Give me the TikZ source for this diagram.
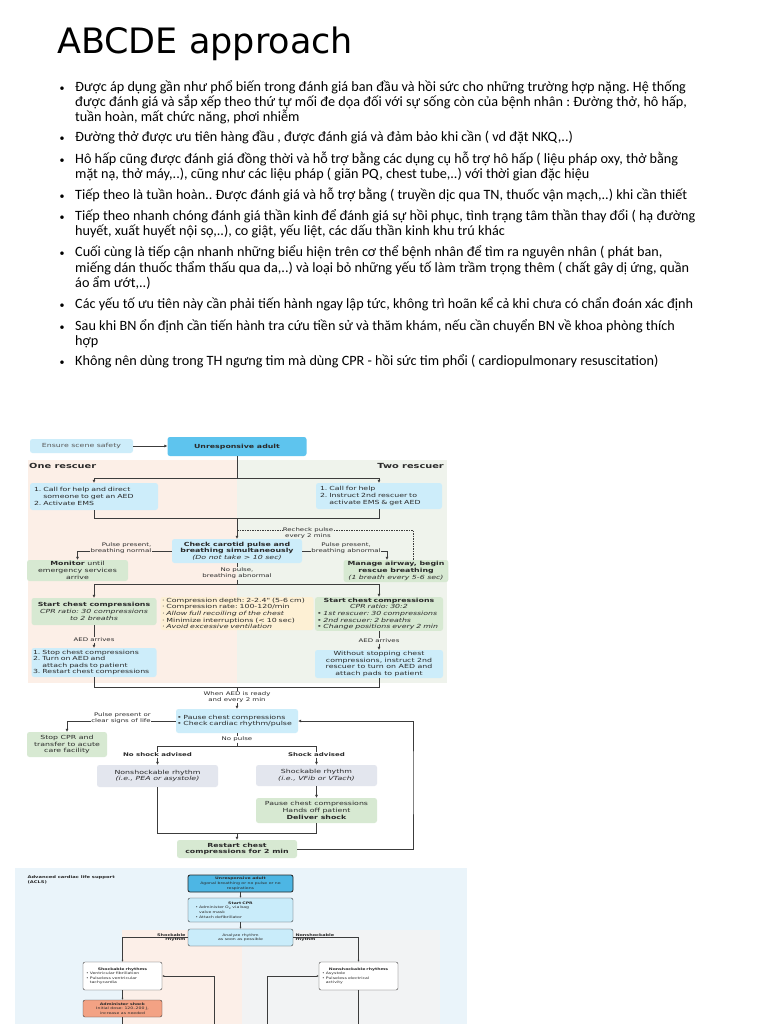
\documentclass[tikz,border=0pt]{standalone}
\usepackage{fontspec}
\setmainfont{Carlito}
\newfontfamily\titlefont{DejaVu Sans}
\newfontfamily\chartfont[FakeStretch=1.4]{DejaVu Sans}
\usetikzlibrary{arrows.meta}
\frenchspacing

\definecolor{linegray}{HTML}{3C3C3C}
\definecolor{textgray}{HTML}{2A2A2A}
\definecolor{aedblue}{HTML}{CDEDFA}
\definecolor{topblue}{HTML}{5EC4EE}
\definecolor{stepgreen}{HTML}{D7E9D2}
\definecolor{noteyellow}{HTML}{FDF0D4}
\definecolor{rhythmgray}{HTML}{E3E6EE}
\definecolor{onebg}{HTML}{FCEFE7}
\definecolor{twobg}{HTML}{EFF3EC}
\definecolor{aclsbg}{HTML}{EAF4FA}
\definecolor{aclsblue}{HTML}{4DB6E4}
\definecolor{aclslight}{HTML}{C9ECFA}
\definecolor{shockred}{HTML}{F3A284}
\definecolor{shockbg}{HTML}{FCEFE8}
\definecolor{aclsgray}{HTML}{F2F3F4}

\tikzset{
  bulletline/.style={anchor=base west, inner sep=0pt, font=\fontsize{14.2}{15.3}\selectfont},
  bulletdot/.style={anchor=base west, inner sep=0pt, font=\fontsize{10}{12}\selectfont},
  chart/.style={font=\chartfont\fontsize{5.6}{6.6}\selectfont, text=textgray},
  cprbox/.style={chart, rounded corners=2.5pt, inner sep=1pt, inner xsep=4pt, align=center},
  bluebox/.style={cprbox, fill=aedblue},
  greenbox/.style={cprbox, fill=stepgreen},
  graybox/.style={cprbox, fill=rhythmgray},
  flowlabel/.style={font=\chartfont\fontsize{5}{6}\selectfont, text=textgray, inner sep=0.5pt, align=center},
  boldlabel/.style={flowlabel, font=\chartfont\bfseries\fontsize{5}{6}\selectfont},
  rescuerlab/.style={font=\chartfont\bfseries\fontsize{7}{8}\selectfont, text=textgray, inner sep=0pt},
  flow/.style={draw=linegray, line width=0.6pt, >={Latex[length=3pt,width=3pt]}},
  acls/.style={font=\chartfont\fontsize{3.3}{4.6}\selectfont, text=textgray},
  aclsbold/.style={font=\chartfont\bfseries\fontsize{3.5}{4.6}\selectfont, text=textgray, inner sep=0.3pt},
  aclsbox/.style={acls, rounded corners=2pt, inner sep=1pt, draw=linegray, line width=0.4pt},
  aflow/.style={draw=linegray, line width=0.45pt, >={Latex[length=2pt,width=2pt]}}
}

\begin{document}
\begin{tikzpicture}[x=1pt, y=-1pt]
	\fill[white] (0,0) rectangle (768,1024);
	\useasboundingbox (0,0) rectangle (768,1024);

	\node[anchor=base west, inner sep=0pt, font=\titlefont\fontsize{35}{40}\selectfont] (title) at (57,54) {ABCDE approach};

	\node[bulletdot] (d1) at (59.5,91.5) {•};
	\node[bulletline] (t1a) at (75,91.5) {Được áp dụng gần như phổ biến trong đánh giá ban đầu và hồi sức cho những trường hợp nặng. Hệ thống};
	\node[bulletline] (t1b) at (75,106.5) {được đánh giá và sắp xếp theo thứ tự mối đe dọa đối với sự sống còn của bệnh nhân : Đường thở, hô hấp,};
	\node[bulletline] (t1c) at (75,121.5) {tuần hoàn, mất chức năng, phơi nhiễm};
	\node[bulletdot] (d2) at (59.5,141.5) {•};
	\node[bulletline] (t2a) at (75,141.5) {Đường thở được ưu tiên hàng đầu , được đánh giá và đảm bảo khi cần ( vd đặt NKQ,..)};
	\node[bulletdot] (d3) at (59.5,163.5) {•};
	\node[bulletline] (t3a) at (75,163.5) {Hô hấp cũng được đánh giá đồng thời và hỗ trợ bằng các dụng cụ hỗ trợ hô hấp ( liệu pháp oxy, thở bằng};
	\node[bulletline] (t3b) at (75,178.5) {mặt nạ, thở máy,..), cũng như các liệu pháp ( giãn PQ, chest tube,..) với thời gian đặc hiệu};
	\node[bulletdot] (d4) at (59.5,199.5) {•};
	\node[bulletline] (t4a) at (75,199.5) {Tiếp theo là tuần hoàn.. Được đánh giá và hỗ trợ bằng ( truyền dịc qua TN, thuốc vận mạch,..) khi cần thiết};
	\node[bulletdot] (d5) at (59.5,220.5) {•};
	\node[bulletline] (t5a) at (75,220.5) {Tiếp theo nhanh chóng đánh giá thần kinh để đánh giá sự hồi phục, tình trạng tâm thần thay đổi ( hạ đường};
	\node[bulletline] (t5b) at (75,235.5) {huyết, xuất huyết nội sọ,..), co giật, yếu liệt, các dấu thần kinh khu trú khác};
	\node[bulletdot] (d6) at (59.5,256.5) {•};
	\node[bulletline] (t6a) at (75,256.5) {Cuối cùng là tiếp cận nhanh những biểu hiện trên cơ thể bệnh nhân để tìm ra nguyên nhân ( phát ban,};
	\node[bulletline] (t6b) at (75,272) {miếng dán thuốc thẩm thấu qua da,..) và loại bỏ những yếu tố làm trầm trọng thêm ( chất gây dị ứng, quần};
	\node[bulletline] (t6c) at (75,287.5) {áo ẩm ướt,..)};
	\node[bulletdot] (d7) at (59.5,308.5) {•};
	\node[bulletline] (t7a) at (75,308.5) {Các yếu tố ưu tiên này cần phải tiến hành ngay lập tức, không trì hoãn kể cả khi chưa có chẩn đoán xác định};
	\node[bulletdot] (d8) at (59.5,330.5) {•};
	\node[bulletline] (t8a) at (75,330.5) {Sau khi BN ổn định cần tiến hành tra cứu tiền sử và thăm khám, nếu cần chuyển BN về khoa phòng thích};
	\node[bulletline] (t8b) at (75,345.5) {hợp};
	\node[bulletdot] (d9) at (59.5,365.5) {•};
	\node[bulletline] (t9a) at (75,365.5) {Không nên dùng trong TH ngưng tim mà dùng CPR - hồi sức tim phổi ( cardiopulmonary resuscitation)};

	% BLS chart
	\fill[onebg] (28,460) rectangle (237,683);
	\fill[twobg] (237,460) rectangle (447,683);

	\node[bluebox, minimum width=103pt, minimum height=14pt, text=black!65] (safety) at (81.5,446) {Ensure scene safety};
	\node[cprbox, fill=topblue, minimum width=139pt, minimum height=19pt] (unresp) at (237,446.5) {\textbf{Unresponsive adult}};
	\node[rescuerlab, anchor=west] (onelab) at (29,466) {One rescuer};
	\node[rescuerlab, anchor=east] (twolab) at (444,466) {Two rescuer};

	\node[bluebox, align=left, text width=120pt, minimum height=27pt] (call1) at (94,496.5) {1. Call for help and direct\\\phantom{1. }someone to get an AED\\2. Activate EMS};
	\node[bluebox, align=left, text width=118pt, minimum height=26pt] (call2) at (379,496) {1. Call for help\\2. Instruct 2nd rescuer to\\\phantom{2. }activate EMS \& get AED};
	\node[bluebox, minimum width=130pt, minimum height=24pt] (check) at (237,551) {\textbf{Check carotid pulse and}\\\textbf{breathing simultaneously}\\\textit{(Do not take > 10 sec)}};
	\node[greenbox, minimum width=101pt, minimum height=21pt] (monitor) at (77.5,570.5) {\textbf{Monitor} until\\emergency services\\arrive};
	\node[greenbox, minimum width=102pt, minimum height=22pt] (manage) at (396,571) {\textbf{Manage airway, begin}\\\textbf{rescue breathing}\\\textit{(1 breath every 5-6 sec)}};

	\node[greenbox, minimum width=125pt, minimum height=27pt] (comp1) at (94,611.5) {\textbf{Start chest compressions}\\\textit{CPR ratio: 30 compressions}\\\textit{to 2 breaths}};
	\node[cprbox, fill=noteyellow, align=left, text width=150pt, inner xsep=1.5pt, minimum height=33pt] (tips) at (237,613.5) {· Compression depth: 2-2.4" (5-6 cm)\\· Compression rate: 100-120/min\\\textit{· Allow full recoiling of the chest}\\· Minimize interruptions (< 10 sec)\\\textit{· Avoid excessive ventilation}};
	\node[greenbox, align=left, text width=124pt, inner xsep=2pt, minimum height=32pt] (comp2) at (379,614) {\centering\textbf{Start chest compressions}\\\textit{CPR ratio: 30:2}\par\raggedright\textit{• 1st rescuer: 30 compressions}\\\textit{• 2nd rescuer: 2 breaths}\\\textit{• Change positions every 2 min}};

	\node[bluebox, align=left, text width=122pt, inner xsep=1.5pt, minimum height=29pt] (aed1) at (94,662.5) {1. Stop chest compressions\\2. Turn on AED and\\\phantom{2. }attach pads to patient\\3. Restart chest compressions};
	\node[bluebox, minimum width=128pt, minimum height=28pt] (aed2) at (379,664) {Without stopping chest\\compressions, instruct 2nd\\rescuer to turn on AED and\\attach pads to patient};

	\node[bluebox, align=left, text width=120pt, inner xsep=1pt, minimum height=24pt] (pause) at (237,721) {• Pause chest compressions\\• Check cardiac rhythm/pulse};
	\node[greenbox, minimum width=80pt, minimum height=25pt] (stop) at (67,744.5) {Stop CPR and\\transfer to acute\\care facility};
	\node[graybox, minimum width=121pt, minimum height=22pt] (nonshock) at (157.5,776) {Nonshockable rhythm\\\textit{(i.e., PEA or asystole)}};
	\node[graybox, minimum width=121pt, minimum height=21pt] (shock) at (316.5,775.5) {Shockable rhythm\\\textit{(i.e., VFib or VTach)}};
	\node[greenbox, minimum width=121pt, minimum height=25pt] (deliver) at (316.5,810.5) {Pause chest compressions\\Hands off patient\\\textbf{Deliver shock}};
	\node[greenbox, minimum width=120pt, minimum height=18pt] (restart) at (237,849) {\textbf{Restart chest}\\\textbf{compressions for 2 min}};

	\node[flowlabel] (recheck) at (308,533) {Recheck pulse\\every 2 mins};
	\node[flowlabel, align=right] (pnormal) at (121,548) {Pulse present,\\breathing normal};
	\node[flowlabel] (pabnormal) at (346,548) {Pulse present,\\breathing abnormal};
	\node[flowlabel] (nopulse) at (237,573.5) {No pulse,\\breathing abnormal};
	\node[flowlabel] (aedlabA) at (94,640) {AED arrives};
	\node[flowlabel] (aedlabB) at (379,641) {AED arrives};
	\node[flowlabel] (aedready) at (237,697) {When AED is ready\\and every 2 min};
	\node[flowlabel, align=right] (pclear) at (121,718) {Pulse present or\\clear signs of life};
	\node[flowlabel] (nopulseB) at (237,739.5) {No pulse};
	\node[boldlabel] (noshk) at (157.5,755) {No shock advised};
	\node[boldlabel] (shk) at (316.5,755) {Shock advised};

	\coordinate (split1) at (237,478);
	\coordinate (join1) at (237,518);
	\coordinate (rc) at (413,530);
	\coordinate (mgturn) at (387,551);
	\coordinate (split2) at (237,584);
	\coordinate (join2) at (237,687);
	\coordinate (split3) at (237,746.5);
	\coordinate (join3) at (237,833);
	\coordinate (loopr) at (413,780);

	\draw[flow,->] (safety.east) -- (safety.east -| unresp.west);
	\draw[flow] (unresp.south) -- (split1);
	\draw[flow,->] (split1) -| (call1.north);
	\draw[flow,->] (split1) -| (call2.north);
	\draw[flow] (call1.south) |- (join1);
	\draw[flow] (call2.south) |- (join1);
	\draw[flow,->] (join1) -- (check.north);
	\draw[flow, dash pattern=on 1.5pt off 1pt] (rc -| join1) -- (rc -| recheck.west);
	\draw[flow, dash pattern=on 1.5pt off 1pt] (rc -| recheck.east) -- (rc) -- (rc |- manage.north);
	\draw[flow] (check.west) -- (check.west -| pnormal.east);
	\draw[flow,->] (check.west -| pnormal.west) -| (monitor.north);
	\draw[flow] (check.east) -- (check.east -| pabnormal.west);
	\draw[flow,->] (check.east -| pabnormal.east) -- (mgturn) -- (mgturn |- manage.north);
	\draw[flow] (check.south) -- (nopulse.north);
	\draw[flow] (nopulse.south) -- (split2);
	\draw[flow,->] (split2) -| (comp1.north);
	\draw[flow,->] (split2) -| (comp2.north);
	\draw[flow] (comp1.south) -- (aedlabA.north);
	\draw[flow,->] (aedlabA.south) -- (aed1.north);
	\draw[flow] (comp2.south) -- (aedlabB.north);
	\draw[flow,->] (aedlabB.south) -- (aed2.north);
	\draw[flow] (aed1.south) |- (join2);
	\draw[flow] (aed2.south) |- (join2);
	\draw[flow] (join2) -- (aedready.north);
	\draw[flow,->] (aedready.south) -- (pause.north);
	\draw[flow] (pause.west) -- (pause.west -| pclear.east);
	\draw[flow,->] (pause.west -| pclear.west) -| (stop.north);
	\draw[flow] (pause.south) -- (nopulseB.north);
	\draw[flow] (nopulseB.south) -- (split3);
	\draw[flow] (split3) -| (noshk.north);
	\draw[flow,->] (noshk.south) -- (nonshock.north);
	\draw[flow] (split3) -| (shk.north);
	\draw[flow,->] (shk.south) -- (shock.north);
	\draw[flow,->] (shock.south) -- (deliver.north);
	\draw[flow] (deliver.south) |- (join3);
	\draw[flow] (nonshock.south) |- (join3);
	\draw[flow,->] (join3) -- (restart.north);
	\draw[flow,->] (restart.east) -| (loopr) |- (pause.east);

	% ACLS chart
	\fill[aclsbg] (15,868) rectangle (467,1024);
	\fill[shockbg] (122,930) rectangle (242,1024);
	\fill[aclsgray] (242,930) rectangle (440,1024);

	\node[aclsbold, anchor=north west, align=left, font=\chartfont\bfseries\fontsize{3.7}{4.8}\selectfont] (aclstitle) at (27,875.5) {Advanced cardiac life support\\(ACLS)};
	\node[aclsbox, fill=aclsblue, draw=black!85, line width=0.8pt, align=center, minimum width=105pt, minimum height=17pt] (aunresp) at (240.5,883.5) {\textbf{Unresponsive adult}\\Agonal breathing or no pulse or no\\respirations};
	\node[aclsbox, fill=aclslight, align=left, text width=97pt, inner xsep=4pt, minimum height=24pt] (startcpr) at (240.5,910) {\centering\textbf{Start CPR}\par\raggedright\quad• Administer O\textsubscript{2} via bag\\\quad\phantom{• }valve mask\\\quad• Attach defibrillator};
	\node[aclsbox, fill=aclslight, align=center, minimum width=105pt, minimum height=17pt] (analyze) at (240.5,937.5) {Analyze rhythm\\as soon as possible};
	\node[aclsbox, fill=white, align=left, text width=73pt, inner xsep=3pt, minimum height=28pt] (shockr) at (122.5,976) {\centering\textbf{Shockable rhythms}\par\raggedright• Ventricular fibrillation\\• Pulseless ventricular\\\phantom{• }tachycardia};
	\node[aclsbox, fill=shockred, align=center, minimum width=79pt, minimum height=17pt] (admin) at (122.5,1008.5) {\textbf{Administer shock}\\Initial dose: 120–200 J,\\increase as needed};
	\node[aclsbox, fill=white, align=left, text width=73pt, inner xsep=3pt, minimum height=28pt] (nonshr) at (358.5,976) {\centering\textbf{Nonshockable rhythms}\par\raggedright• Asystole\\• Pulseless electrical\\\phantom{• }activity};
	\node[aclsbold, anchor=east, align=right] (shklab) at (186,937.5) {Shockable\\rhythm};
	\node[aclsbold, anchor=west, align=left] (nshklab) at (295,937.5) {Nonshockable\\rhythm};

	\coordinate (abot) at (122.5,1028);
	\coordinate (nbot) at (358.5,1030);
	\coordinate (sloop) at (214,1030);
	\coordinate (nloop) at (267,1030);

	\draw[aflow,->] (aunresp.south) -- (startcpr.north);
	\draw[aflow,->] (startcpr.south) -- (analyze.north);
	\draw[aflow,->] (analyze.west) -| (shockr.north);
	\draw[aflow,->] (analyze.east) -| (nonshr.north);
	\draw[aflow,->] (shockr.south) -- (admin.north);
	\draw[aflow,->] (admin.south) -- (abot);
	\draw[aflow] (nonshr.south) -- (nbot);
	\draw[aflow,->] (sloop) |- (shockr.east);
	\draw[aflow,->] (nloop) |- (nonshr.west);
\end{tikzpicture}
\end{document}
